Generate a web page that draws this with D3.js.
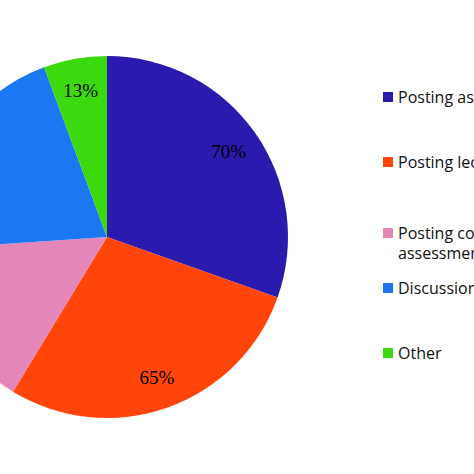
<!DOCTYPE html>
<html><head><meta charset="utf-8">
<script src="https://cdn.jsdelivr.net/npm/d3@7"></script>
<style>body{margin:0;background:#fff}</style></head>
<body><svg id="c" width="474" height="474"></svg>
<script>
const categories = ["Posting assignments", "Posting lecture notes", "Posting course|assessments", "Discussion forum", "Other"];
const values = [70, 65, 35, 47, 13];
const labels = ["70%", "65%", "35%", "47%", "13%"];
const colors = ["#2a1aad", "#ff4509", "#e487b8", "#1b78f2", "#3dd90f"];

const svg = d3.select("#c");
const cx = 107, cy = 237, r = 181;
const g = svg.append("g").attr("transform", `translate(${cx},${cy})`);
const pie = d3.pie().sort(null).value(d => d);
const arcs = pie(values);
const arc = d3.arc().innerRadius(0).outerRadius(r);
const labelArc = d3.arc().innerRadius(149).outerRadius(149);
g.selectAll("path").data(arcs).join("path").attr("d", arc).attr("fill", (d, i) => colors[i]);
g.selectAll("text").data(arcs).join("text")
  .attr("transform", d => `translate(${labelArc.centroid(d)})`)
  .attr("text-anchor", "middle").attr("dy", "0.35em")
  .style("font-family", "'Liberation Serif', serif").style("font-size", "19px")
  .text((d, i) => labels[i]);

const rows = [97, 162, 233, 288, 353];
const lg = svg.append("g");
categories.forEach((c, i) => {
  lg.append("rect").attr("x", 383).attr("y", rows[i] - 5).attr("width", 10).attr("height", 10).attr("fill", colors[i]);
  const t = lg.append("text").attr("x", 398).attr("y", rows[i])
    .style("font-family", "'Open Sans', sans-serif").style("font-size", "16px").attr("fill", "#111");
  c.split("|").forEach((line, j) => t.append("tspan").attr("x", 398).attr("dy", j ? "1.3em" : "0.35em").text(line));
});
</script></body></html>
